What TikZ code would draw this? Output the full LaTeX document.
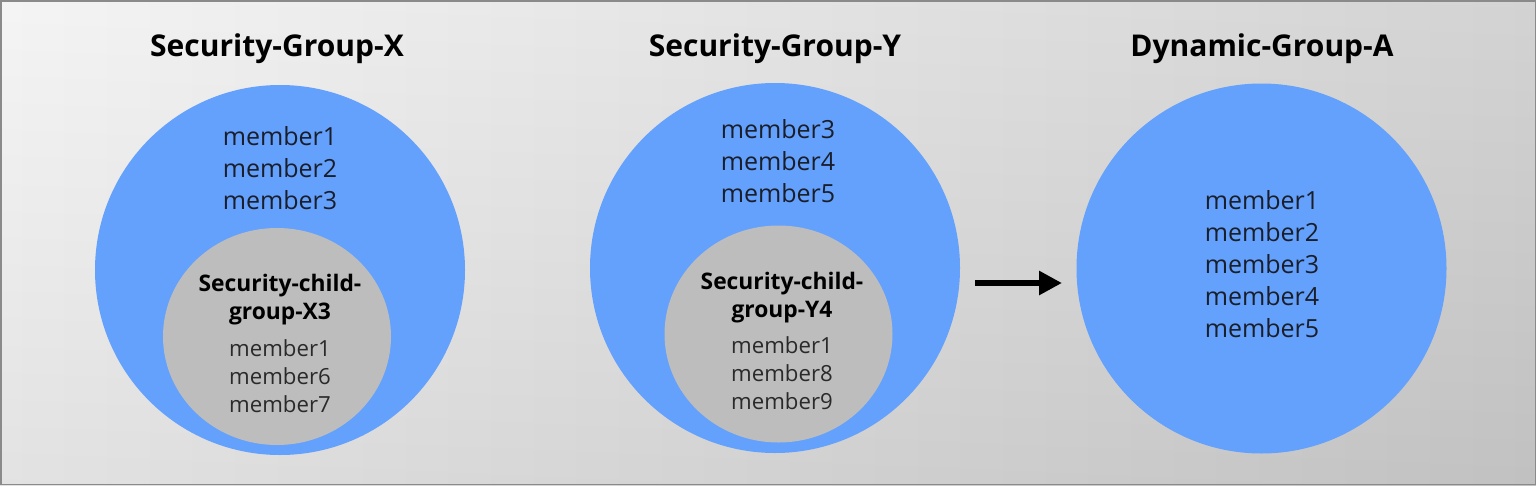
\documentclass[tikz,border=0pt]{standalone}
\usepackage{fontspec}
\setmainfont{Open Sans}
\usetikzlibrary{shapes.geometric,arrows.meta}
\definecolor{groupblue}{HTML}{63A1FC}
\definecolor{childgray}{HTML}{BDBDBD}
\definecolor{txtdark}{HTML}{1A1E2A}
\definecolor{txtgray}{HTML}{2A2A2A}
\definecolor{bgleft}{HTML}{F3F4F3}
\definecolor{bgright}{HTML}{D0D0D0}
\definecolor{framegray}{HTML}{8A8A8A}
\tikzset{
  bigcircle/.style={circle, fill=groupblue, draw=none, minimum size=370pt, inner sep=0pt},
  childcircle/.style={ellipse, fill=childgray, draw=none, minimum width=228pt, minimum height=217pt, inner sep=0pt},
  grouptitle/.style={font=\fontsize{30}{34}\selectfont\bfseries, text=black, inner sep=0pt},
  memberlist/.style={font=\fontsize{25}{32}\selectfont, text=txtdark, align=center, inner sep=0pt},
  childtitle/.style={font=\fontsize{22.8}{28}\selectfont\bfseries, text=black, align=center, inner sep=0pt},
  childlist/.style={font=\fontsize{22.2}{28}\selectfont, text=txtgray, align=center, inner sep=0pt},
  bigarrow/.style={line width=6.5pt, -{Triangle[length=23pt,width=23pt]}}
}
\begin{document}
\begin{tikzpicture}[x=1pt,y=-1pt]
  \useasboundingbox (0,0) rectangle (1536,485);
  \shade[left color=bgleft, right color=bgright] (0,0) rectangle (1536,485);
  \shade[top color=white, bottom color=black, opacity=0.07] (0,0) rectangle (1536,485);
  \draw[framegray, line width=1.5pt] (0.75,0.75) rectangle (1535.25,484.25);

  % Group X
  \node[grouptitle] (tx) at (277,49) {Security-Group-X};
  \node[bigcircle] (gx) at (280,270) {};
  \node[memberlist] (mx) at (280,168) {member1\\member2\\member3};
  \node[childcircle] (cx) at (277,336.5) {};
  \node[childtitle] (ctx) at (280,300) {Security-child-\\group-X3};
  \node[childlist] (cmx) at (280,376) {member1\\member6\\member7};

  % Group Y
  \node[grouptitle] (ty) at (775,49) {Security-Group-Y};
  \node[bigcircle] (gy) at (775,268) {};
  \node[memberlist] (my) at (778,161.5) {member3\\member4\\member5};
  \node[childcircle] (cy) at (778.5,334) {};
  \node[childtitle] (cty) at (782,298) {Security-child-\\group-Y4};
  \node[childlist] (cmy) at (782,373) {member1\\member8\\member9};

  % Group A
  \node[grouptitle] (ta) at (1262,49) {Dynamic-Group-A};
  \node[bigcircle] (ga) at (1261.5,268.5) {};
  \node[memberlist] (ma) at (1262,264) {member1\\member2\\member3\\member4\\member5};

  % Arrow
  \coordinate (arrowstart) at (975,283);
  \coordinate (arrowend) at (1062,283);
  \draw[bigarrow] (arrowstart) -- (arrowend);
\end{tikzpicture}
\end{document}
